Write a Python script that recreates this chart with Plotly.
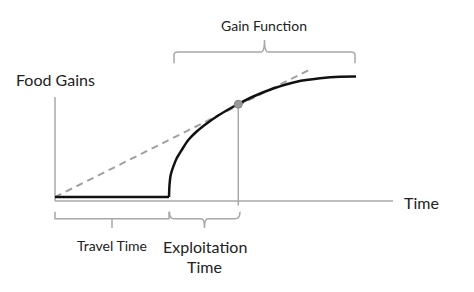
import plotly.graph_objects as go

# ---- data (time units, gain units) ----
travel_x = [0.0, 11.4]
travel_y = [0.4, 0.4]

gain_x = [11.4, 11.45, 11.57, 11.83, 12.17, 12.67, 13.33, 14.17, 15.17, 16.17,
          17.33, 18.33, 19.83, 21.83, 24.17, 26.5, 28.5, 30.1]
gain_y = [0.4, 1.6, 2.6, 3.43, 4.27, 5.1, 6.1, 6.95, 7.75, 8.45,
          9.15, 9.7, 10.45, 11.25, 11.93, 12.27, 12.43, 12.45]

rate_x = [0.0, 25.6]
rate_y = [0.4, 13.2]

opt_x = [18.33]
opt_y = [9.68]

axis_len_x = 33.8
axis_len_y = 10.4
travel_end = 11.4
exploit_end = 18.5
gain_start = 11.9
gain_end = 30.0

TXT = "#222222"
GRY = "#a8a8a8"
FONT = "Lato"

fig = go.Figure()

# axes drawn as lines
fig.add_trace(go.Scatter(x=[0, axis_len_x], y=[0, 0], mode="lines",
                         line=dict(color=GRY, width=1.5), hoverinfo="skip"))
fig.add_trace(go.Scatter(x=[0, 0], y=[0, axis_len_y], mode="lines",
                         line=dict(color=GRY, width=1.5), hoverinfo="skip"))
# vertical drop line at optimum
fig.add_trace(go.Scatter(x=[opt_x[0], opt_x[0]], y=[opt_y[0], -0.45], mode="lines",
                         line=dict(color=GRY, width=1.5), hoverinfo="skip"))
# dashed rate line
fig.add_trace(go.Scatter(x=rate_x, y=rate_y, mode="lines",
                         line=dict(color="#a0a0a0", width=2, dash="7px,5px"), hoverinfo="skip"))
# travel (flat) segment
fig.add_trace(go.Scatter(x=travel_x, y=travel_y, mode="lines",
                         line=dict(color="#111111", width=2.5), hoverinfo="skip"))
# gain curve
fig.add_trace(go.Scatter(x=gain_x, y=gain_y, mode="lines",
                         line=dict(color="#111111", width=2.5, shape="spline", smoothing=0.8),
                         hoverinfo="skip"))
# optimum point
fig.add_trace(go.Scatter(x=opt_x, y=opt_y, mode="markers",
                         marker=dict(size=8, color="#999999", line=dict(color="#888888", width=1)),
                         hoverinfo="skip"))

# brackets
ym, yb, yt = -1.07, -1.78, -2.7
mid_t = travel_end / 2
mid_e = (travel_end + exploit_end) / 2
paths = [
    f"M 0,{ym} L 0,{yb} L {travel_end},{yb} L {travel_end},{ym} M {mid_t},{yb} L {mid_t},{yt}",
    (f"M {travel_end+0.05},{ym} Q {travel_end+0.05},{yb} {travel_end+0.5},{yb} "
     f"L {mid_e-0.35},{yb} Q {mid_e},{yb} {mid_e},{yt} Q {mid_e},{yb} {mid_e+0.35},{yb} "
     f"L {exploit_end-0.5},{yb} Q {exploit_end},{yb} {exploit_end},{ym}"),
]
g0, g1, g2 = 13.77, 14.9, 16.1
mid_g = (gain_start + gain_end) / 2
paths.append(
    f"M {gain_start},{g0} L {gain_start},{g1-0.3} Q {gain_start},{g1} {gain_start+0.4},{g1} "
    f"L {mid_g-0.35},{g1} Q {mid_g},{g1} {mid_g},{g2} Q {mid_g},{g1} {mid_g+0.35},{g1} "
    f"L {gain_end-0.4},{g1} Q {gain_end},{g1} {gain_end},{g1-0.3} L {gain_end},{g0}"
)
for p in paths:
    fig.add_shape(type="path", path=p, xref="x", yref="y",
                  line=dict(color=GRY, width=1.5))

ann = [
    dict(x=mid_g - 0.1, y=17.6, text="Gain Function", size=14),
    dict(x=0.0, y=12.2, text="Food Gains", size=16),
    dict(x=36.6, y=-0.1, text="Time", size=16),
    dict(x=mid_t, y=-4.4, text="Travel Time", size=14),
    dict(x=mid_e, y=-4.5, text="Exploitation", size=16),
    dict(x=mid_e, y=-6.5, text="Time", size=16),
]
for a in ann:
    fig.add_annotation(x=a["x"], y=a["y"], xref="x", yref="y", text=a["text"],
                       showarrow=False, xanchor="center", yanchor="middle",
                       font=dict(family=FONT, size=a["size"], color=TXT))

fig.update_layout(
    width=474, height=292,
    margin=dict(l=0, r=0, t=0, b=0),
    paper_bgcolor="white", plot_bgcolor="white",
    showlegend=False,
    xaxis=dict(range=[-5.5, 41.9], visible=False, fixedrange=True),
    yaxis=dict(range=[-9.1, 20.1], visible=False, fixedrange=True),
)

fig.write_html("out.html")
